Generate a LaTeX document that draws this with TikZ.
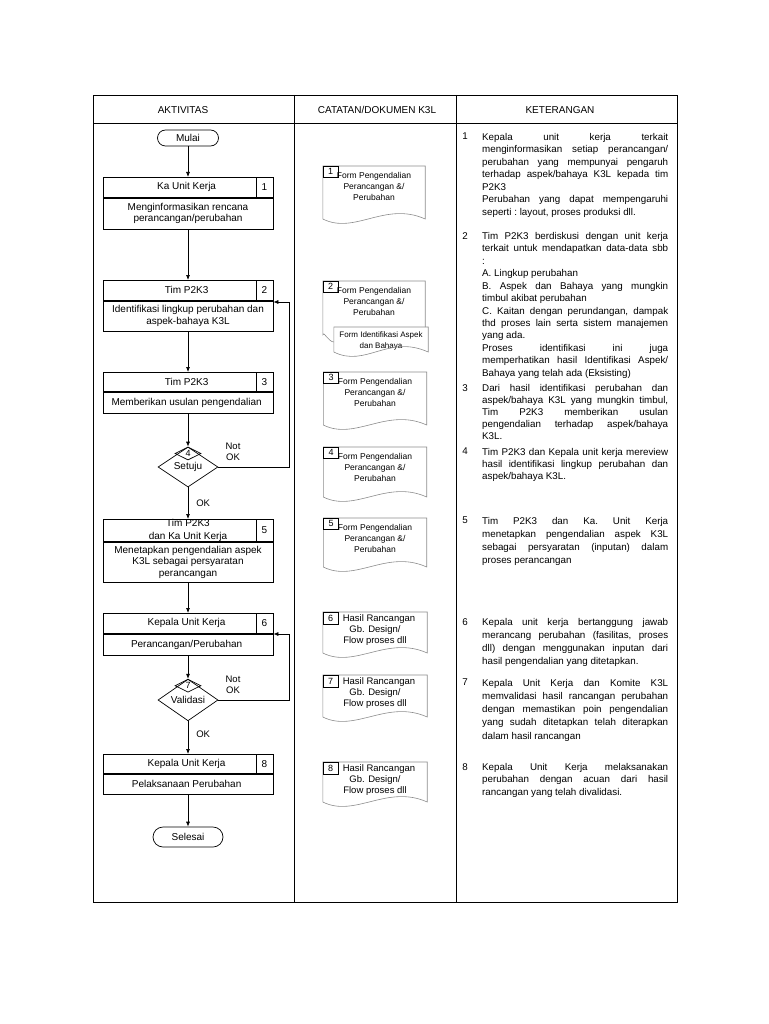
\documentclass[tikz,border=0pt]{standalone}
\usepackage{fontspec}
\setmainfont{Liberation Sans}
\usetikzlibrary{positioning,calc,shapes.geometric,arrows.meta}

% document symbol: straight top and sides, wavy bottom
\newcommand{\docframe}[2]{%
  \draw[docline] ($(#1.north west)+(0,#2)$) -- (#1.north west) -- (#1.north east)
    -- ($(#1.north east)+(0,#2)$)
    .. controls ($(#1.north east)+(-40,#2-18)$) and ($(#1.north west)+(32,#2+16)$)
    .. ($(#1.north west)+(0,#2)$);
}

\begin{document}
\begin{tikzpicture}[x=1pt,y=-1pt]
\useasboundingbox (0,0) rectangle (768,1024);
% size of a step box
\def\bw{170pt}
\def\nw{17pt}
% node style definition
\tikzstyle{plain} = [draw=none,fill=none,inner sep=0pt];
\tikzstyle{tab} = [line width=0.8pt];
\tikzstyle{term} = [draw, rectangle, rounded corners=8pt, line width=0.7pt,
	minimum width=61pt, minimum height=16pt, inner sep=0pt,
	font=\fontsize{10}{12}\selectfont];
\tikzstyle{head} = [draw, rectangle, anchor=north, line width=0.7pt,
	minimum width=\bw, minimum height=20pt, inner sep=0pt, align=center,
	font=\fontsize{10}{13}\selectfont];
\tikzstyle{numcell} = [draw, rectangle, anchor=north east, line width=0.7pt,
	minimum width=\nw, minimum height=20pt, inner sep=0pt,
	font=\fontsize{10}{12}\selectfont];
\tikzstyle{body} = [draw, rectangle, line width=0.7pt,
	minimum width=\bw, inner sep=0pt, align=center,
	font=\fontsize{10}{11.5}\selectfont];
\tikzstyle{dec} = [draw, diamond, line width=0.7pt,
	minimum width=60pt, minimum height=40pt, inner sep=0pt,
	font=\fontsize{10}{12}\selectfont];
\tikzstyle{decnum} = [draw, diamond, anchor=north, line width=0.7pt,
	minimum width=26pt, minimum height=13pt, inner sep=0pt,
	font=\fontsize{9}{9}\selectfont];
\tikzstyle{lbl} = [plain, align=center, font=\fontsize{9.5}{11}\selectfont];
\tikzstyle{arrow} = [line width=0.7pt, -{Latex[length=5pt,width=4pt]}];
\tikzstyle{docline} = [draw=black!45, line width=0.6pt];
\tikzstyle{doc} = [draw=none, anchor=north, minimum width=102pt,
	inner xsep=0pt, inner ysep=6pt, align=center,
	font=\fontsize{8.5}{11}\selectfont];
\tikzstyle{hasil} = [doc, minimum width=104pt, inner ysep=2pt,
	font=\fontsize{9.5}{11}\selectfont];
\tikzstyle{docnum} = [draw, rectangle, anchor=north west, line width=0.6pt,
	minimum width=15pt, minimum height=11pt, inner sep=0pt,
	font=\fontsize{9}{9}\selectfont];
\tikzstyle{ket} = [plain, anchor=north west, text width=186pt, align=justify];
\tikzstyle{ketnum} = [plain, anchor=north, font=\fontsize{9.8}{12}\selectfont];
\def\ketfont#1{\fontsize{9.8}{#1}\selectfont\parindent=0pt\parskip=0pt%
	\hyphenpenalty=10000\exhyphenpenalty=10000\frenchspacing}

% table
\draw[tab] (93,95) rectangle (677,902);
\draw[tab] (93,123) -- (677,123);
\draw[tab] (294,95) -- (294,902);
\draw[tab] (456,95) -- (456,902);
\node[plain, font=\fontsize{10}{12}\selectfont] (hakt) at (183,110) {AKTIVITAS};
\node[plain, font=\fontsize{10}{12}\selectfont] (hcat) at (377,110) {CATATAN/DOKUMEN K3L};
\node[plain, font=\fontsize{10}{12}\selectfont] (hket) at (560,110) {KETERANGAN};

% AKTIVITAS column
\node[term] (mulai) at (188,138) { Mulai };

\node[head] (s1h) at (188,177) { Ka Unit Kerja };
\node[numcell] (s1n) at (s1h.north east) { 1 };
\node[body, below=0pt of s1h, minimum height=31pt] (s1b) { Menginformasikan rencana\\perancangan/perubahan };

\node[head] (s2h) at (188,280) { Tim P2K3 };
\node[numcell] (s2n) at (s2h.north east) { 2 };
\node[body, below=0pt of s2h, minimum height=30pt] (s2b) { Identifikasi lingkup perubahan dan\\aspek-bahaya K3L };

\node[head, minimum height=19pt] (s3h) at (188,372) { Tim P2K3 };
\node[numcell, minimum height=19pt] (s3n) at (s3h.north east) { 3 };
\node[body, below=0pt of s3h, minimum height=21pt] (s3b) { Memberikan usulan pengendalian };

\node[dec] (dec4) at (188,467) { Setuju };
\node[decnum] (dn4) at (dec4.north) { 4 };
\node[lbl] (nok4) at (233,452) { Not\\OK };

\node[head, minimum height=22pt] (s5h) at (188,519) { Tim P2K3\\dan Ka Unit Kerja };
\node[numcell, minimum height=22pt] (s5n) at (s5h.north east) { 5 };
\node[body, below=0pt of s5h, minimum height=40pt] (s5b) { Menetapkan pengendalian aspek\\K3L sebagai persyaratan\\perancangan };

\node[head] (s6h) at (188,613) { Kepala Unit Kerja };
\node[numcell] (s6n) at (s6h.north east) { 6 };
\node[body, below=0pt of s6h, minimum height=21pt] (s6b) { Perancangan/Perubahan };

\node[dec] (dec7) at (188,700) { Validasi };
\node[decnum] (dn7) at (dec7.north) { 7 };
\node[lbl] (nok7) at (233,685) { Not\\OK };

\node[head, minimum height=19pt] (s8h) at (188,754) { Kepala Unit Kerja };
\node[numcell, minimum height=19pt] (s8n) at (s8h.north east) { 8 };
\node[body, below=0pt of s8h, minimum height=20pt] (s8b) { Pelaksanaan Perubahan };

\node[term, rounded corners=10pt, minimum width=70pt, minimum height=20pt] (selesai) at (188,837) { Selesai };

% connectors
\coordinate (back4) at (289,302);
\coordinate (back7) at (289,634);
\draw[arrow] (mulai) -- (s1h);
\draw[arrow] (s1b) -- (s2h);
\draw[arrow] (s2b) -- (s3h);
\draw[arrow] (s3b) -- (dec4);
\draw[arrow] (dec4) -- node[lbl, right=8pt] (ok4) {OK} (s5h);
\draw[arrow] (dec4.east) -| (back4) -- (back4 -| s2b.east);
\draw[arrow] (s5b) -- (s6h);
\draw[arrow] (s6b) -- (dec7);
\draw[arrow] (dec7) -- node[lbl, right=8pt, pos=0.4] (ok7) {OK} (s8h);
\draw[arrow] (dec7.east) -| (back7) -- (back7 -| s6b.east);
\draw[arrow] (s8b) -- (selesai);

% CATATAN/DOKUMEN column
\node[doc] (d1) at (374,166) { Form Pengendalian\\Perancangan \&/\\Perubahan };
\docframe{d1}{53}
\node[docnum] (d1n) at (d1.north west) { 1 };

\node[doc] (d2) at (374,281) { Form Pengendalian\\Perancangan \&/\\Perubahan };
\node[doc, minimum width=94pt, inner ysep=4.5pt, font=\fontsize{8}{11}\selectfont] (d2b) at (381,327) { Form Identifikasi Aspek\\dan Bahaya };
\draw[docline] (d2b.north -| d2.east) -- (d2.north east) -- (d2.north west) -- ++(0,54)
	to[out=90,in=180] ($(d2b.north west)+(0,15)$);
\docframe{d2b}{25}
\node[docnum] (d2n) at (d2.north west) { 2 };

\node[doc, minimum width=103pt] (d3) at (375,372) { Form Pengendalian\\Perancangan \&/\\Perubahan };
\docframe{d3}{53}
\node[docnum] (d3n) at (d3.north west) { 3 };

\node[doc, minimum width=103pt] (d4) at (375,447) { Form Pengendalian\\Perancangan \&/\\Perubahan };
\docframe{d4}{50}
\node[docnum] (d4n) at (d4.north west) { 4 };

\node[doc, minimum width=103pt] (d5) at (375,518) { Form Pengendalian\\Perancangan \&/\\Perubahan };
\docframe{d5}{49}
\node[docnum] (d5n) at (d5.north west) { 5 };

\node[hasil] (d6) at (375,612) { \hspace*{8pt}Hasil Rancangan\\Gb. Design/\\Flow proses dll };
\docframe{d6}{41}
\node[docnum, minimum height=12pt] (d6n) at (d6.north west) { 6 };

\node[hasil] (d7) at (375,675) { \hspace*{8pt}Hasil Rancangan\\Gb. Design/\\Flow proses dll };
\docframe{d7}{42}
\node[docnum, minimum height=12pt] (d7n) at (d7.north west) { 7 };

\node[hasil] (d8) at (375,762) { \hspace*{8pt}Hasil Rancangan\\Gb. Design/\\Flow proses dll };
\docframe{d8}{40}
\node[docnum, minimum height=12pt] (d8n) at (d8.north west) { 8 };

% KETERANGAN column
\node[ketnum] (k1n) at (465,133) { 1 };
\node[ket, font=\ketfont{12.5}] (k1) at (482,133) {Kepala unit kerja terkait\linebreak menginformasikan setiap perancangan/\linebreak perubahan yang mempunyai pengaruh\linebreak terhadap aspek/bahaya K3L kepada tim\linebreak P2K3\par Perubahan yang dapat mempengaruhi\linebreak seperti : layout, proses produksi dll.};

\node[ketnum] (k2n) at (465,232) { 2 };
\node[ket, font=\ketfont{12.45}] (k2) at (482,232) {Tim P2K3 berdiskusi dengan unit kerja\linebreak terkait untuk mendapatkan data-data sbb\linebreak :\par A. Lingkup perubahan\par B. Aspek dan Bahaya yang mungkin\linebreak timbul akibat perubahan\par C. Kaitan dengan perundangan, dampak\linebreak thd proses lain serta sistem manajemen\linebreak yang ada.\par Proses identifikasi ini juga\linebreak memperhatikan hasil Identifikasi Aspek/\linebreak Bahaya yang telah ada (Eksisting)};

\node[ketnum] (k3n) at (465,384) { 3 };
\node[ket, font=\ketfont{12}] (k3) at (482,384) {Dari hasil identifikasi perubahan dan\linebreak aspek/bahaya K3L yang mungkin timbul,\linebreak Tim P2K3 memberikan usulan\linebreak pengendalian terhadap aspek/bahaya\linebreak K3L.};

\node[ketnum] (k4n) at (465,448) { 4 };
\node[ket, font=\ketfont{12}] (k4) at (482,448) {Tim P2K3 dan Kepala unit kerja mereview\linebreak hasil identifikasi lingkup perubahan dan\linebreak aspek/bahaya K3L.};

\node[ketnum] (k5n) at (465,517) { 5 };
\node[ket, font=\ketfont{13}] (k5) at (482,517) {Tim P2K3 dan Ka. Unit Kerja\linebreak menetapkan pengendalian aspek K3L\linebreak sebagai persyaratan (inputan) dalam\linebreak proses perancangan};

\node[ketnum] (k6n) at (465,618) { 6 };
\node[ket, font=\ketfont{13}] (k6) at (482,618) {Kepala unit kerja bertanggung jawab\linebreak merancang perubahan (fasilitas, proses\linebreak dll) dengan menggunakan inputan dari\linebreak hasil pengendalian yang ditetapkan.};

\node[ketnum] (k7n) at (465,679) { 7 };
\node[ket, font=\ketfont{13.2}] (k7) at (482,679) {Kepala Unit Kerja dan Komite K3L\linebreak memvalidasi hasil rancangan perubahan\linebreak dengan memastikan poin pengendalian\linebreak yang sudah ditetapkan telah diterapkan\linebreak dalam hasil rancangan};

\node[ketnum] (k8n) at (465,763) { 8 };
\node[ket, font=\ketfont{12.6}] (k8) at (482,763) {Kepala Unit Kerja melaksanakan\linebreak perubahan dengan acuan dari hasil\linebreak rancangan yang telah divalidasi.};
\end{tikzpicture}
\end{document}
